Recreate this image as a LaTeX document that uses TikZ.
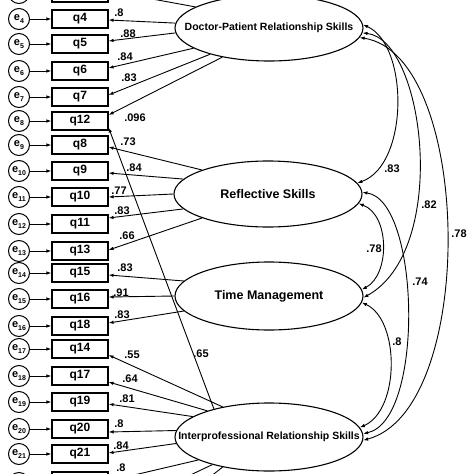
\documentclass[tikz,border=0pt]{standalone}
\usepackage{fontspec}
\setmainfont{Liberation Sans}
\usetikzlibrary{arrows.meta,shapes.geometric}
\begin{document}
\begin{tikzpicture}[x=1pt,y=1pt,
  obs/.style={draw,line width=1.1pt,minimum width=56pt,minimum height=18pt,inner sep=0pt,font=\bfseries\fontsize{12}{12}\selectfont},
  err/.style={draw,circle,line width=1pt,minimum size=21pt,inner sep=0pt,font=\bfseries\fontsize{11}{11}\selectfont},
  lat/.style={draw,ellipse,line width=1.1pt,minimum width=188pt,minimum height=66pt,inner xsep=-40pt,inner ysep=0pt,font=\bfseries\fontsize{10.5}{12}\selectfont},
  latbig/.style={lat,font=\bfseries\fontsize{12.5}{14}\selectfont},
  arr/.style={line width=0.9pt,-{Latex[length=5pt,width=3.5pt]}},
  cor/.style={line width=0.9pt,{Latex[length=5pt,width=3.5pt]}-{Latex[length=5pt,width=3.5pt]}},
  lab/.style={font=\bfseries\fontsize{11}{11}\selectfont,inner sep=0pt},
]
\useasboundingbox (0,0) rectangle (474,-474);
\clip (0,0) rectangle (474,-474);
\fill[white] (0,0) rectangle (474,-474);

% observed variables and error terms
\node[obs] (q3) at (80,7) {};
\node[err] (e3) at (19,7) {};
\draw[arr] (e3) -- (q3);
\node[obs] (q22) at (80,-481) {};
\node[err] (e22) at (19,-483) {};
\draw[arr] (e22) -- (q22);
\foreach \q/\e/\y in {4/4/19,5/5/44,6/6/71,7/7/97,12/8/121,8/9/145,9/10/171,10/11/197,11/12/224,13/13/251,15/14/273,16/15/299,18/16/326,14/17/349,17/18/376,19/19/402,20/20/429,21/21/454}{
  \node[obs] (q\q) at (80,-\y) {q\q};
  \node[err] (e\e) at (19,-\y) {e\raisebox{-2.5pt}{\fontsize{7}{7}\selectfont\e}};
  \draw[arr] (e\e) -- (q\q);
}

% latent variables
\node[lat] (dp) at (269,-28) {Doctor-Patient Relationship Skills};
\node[latbig] (rs) at (268,-194) {Reflective Skills};
\node[latbig,minimum height=68pt] (tm) at (269,-296) {Time Management};
\node[lat,minimum height=68pt] (ip) at (269,-437) {Interprofessional Relationship Skills};

\coordinate (b23) at (110,-513);
\coordinate (b24) at (110,-555);

% loadings
\draw[arr] (dp.164) -- ([yshift=2pt]q3.east);
\draw[arr] (dp.177) -- ([yshift=-1pt]q4.east);
\draw[arr] (dp.183) -- ([yshift=3pt]q5.east);
\draw[arr] (dp.195) -- ([yshift=3pt]q6.east);
\draw[arr] (dp.204) -- ([yshift=2pt]q7.east);
\draw[arr] (dp.212) -- ([yshift=6pt]q12.east);
\draw[arr] (rs.160) -- ([yshift=-2pt]q8.east);
\draw[arr] (rs.170) -- ([yshift=-2pt]q9.east);
\draw[arr] (rs.180) -- (q10.east);
\draw[arr] (rs.190) -- ([yshift=6pt]q11.east);
\draw[arr] (rs.200) -- ([yshift=1pt]q13.east);
\draw[arr] (tm.170) -- ([yshift=-2pt]q15.east);
\draw[arr] (tm.180) -- ([yshift=2pt]q16.east);
\draw[arr] (tm.190) -- ([yshift=3pt]q18.east);
\draw[arr] (ip.147) -- ([yshift=-6pt]q14.east);
\draw[arr] (ip.157) -- ([yshift=-6pt]q17.east);
\draw[arr] (ip.165) -- ([yshift=-2pt]q19.east);
\draw[arr] (ip.176) -- ([yshift=-3pt]q20.east);
\draw[arr] (ip.184) -- ([yshift=1pt]q21.east);
\draw[arr] (ip.198) -- (q22.east);
\draw[arr] (ip.206) -- (b23);
\draw[arr] (ip.213) -- (b24);
\draw[arr] (ip.153) -- ([yshift=3pt]q12.south east);

\node[lab] (l4) at (119,-13) {.8};
\node[lab] (l5) at (128,-34) {.88};
\node[lab] (l6) at (125,-57) {.84};
\node[lab] (l7) at (129,-78) {.83};
\node[lab] (l12) at (135,-118) {.096};
\node[lab] (l8) at (128,-142) {.73};
\node[lab] (l9) at (134,-168) {.84};
\node[lab] (l10) at (119,-191) {.77};
\node[lab] (l11) at (122,-211) {.83};
\node[lab] (l13) at (127,-236) {.66};
\node[lab] (l15) at (125,-268) {.83};
\node[lab] (l16) at (121,-293) {.91};
\node[lab] (l18) at (122,-315) {.83};
\node[lab] (l14) at (132,-355) {.55};
\node[lab] (l17) at (130,-379) {.64};
\node[lab] (l19) at (127,-399) {.81};
\node[lab] (l20) at (119,-424) {.8};
\node[lab] (l21) at (121,-446) {.84};
\node[lab] (l22) at (121,-468) {.8};
\node[lab] (l65) at (201,-354) {.65};

% correlations
\draw[cor] (dp.2) .. controls (409,-45) and (409,-165) .. (rs.7);
\draw[cor] (dp.357) .. controls (425,-40) and (450,-250) .. (tm.359);
\draw[cor] (dp.354) .. controls (473,-55) and (478,-410) .. (ip.358);
\draw[cor] (rs.1) .. controls (420,-200) and (425,-420) .. (ip.2);
\draw[cor] (rs.354) .. controls (390,-215) and (390,-275) .. (tm.4);
\draw[cor] (tm.356) .. controls (400,-320) and (400,-410) .. (ip.6);

\node[lab] (c1) at (392,-169) {.83};
\node[lab] (c2) at (429,-205) {.82};
\node[lab] (c3) at (459,-234) {.78};
\node[lab] (c4) at (374,-249) {.78};
\node[lab] (c5) at (420,-282) {.74};
\node[lab] (c6) at (397,-342) {.8};
\end{tikzpicture}
\end{document}
